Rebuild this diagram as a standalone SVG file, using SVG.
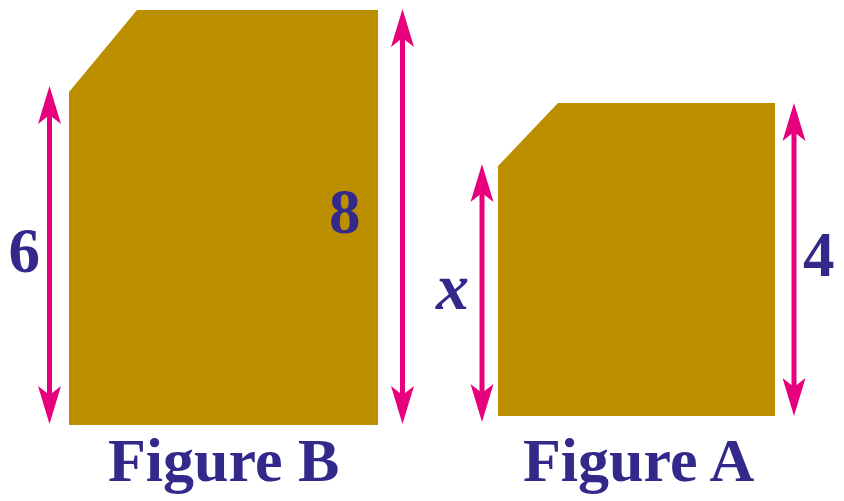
<svg xmlns="http://www.w3.org/2000/svg" width="844" height="501" viewBox="0 0 844 501">
<style>
.s{fill:#bc8f00}
.a{fill:none;stroke:#e6007e;stroke-width:5}
.h{fill:#e6007e}
text{font-family:"Liberation Serif","Times New Roman",serif;font-weight:bold;fill:#33298a}
.n{font-size:63px}
.v{font-size:66px;font-style:italic}
.l{font-size:62px}
</style>
<rect width="844" height="501" fill="#fff"/>
<g id="figure-b"><polygon class="s" points="137,10 378,10 378,425 69,425 69,92"/></g>
<g id="figure-a"><polygon class="s" points="558,103 775,103 775,416 498,416 498,166"/></g>
<g id="connectors">
<path class="a" d="M49.500,105V405"/>
<path class="h" d="M49.500,86L61,124L49.500,115L38,124Z"/>
<path class="h" d="M49.500,424L61,386L49.500,395L38,386Z"/>
<path class="a" d="M402.500,30V405"/>
<path class="h" d="M402.500,9L414,47L402.500,38L391,47Z"/>
<path class="h" d="M402.500,424L414,386L402.500,395L391,386Z"/>
<path class="a" d="M482,183V403"/>
<path class="h" d="M482,164L493.500,202L482,193L470.500,202Z"/>
<path class="h" d="M482,422L493.500,384L482,393L470.500,384Z"/>
<path class="a" d="M794,122V397"/>
<path class="h" d="M794,103L805.500,141L794,132L782.500,141Z"/>
<path class="h" d="M794,416L805.500,378L794,387L782.500,378Z"/>
</g>
<g id="labels">
<text class="n" x="8.500" y="272">6</text>
<text class="n" x="329" y="232.500">8</text>
<text class="v" x="436" y="309">x</text>
<text class="n" x="803" y="275.500">4</text>
<text class="l" x="108" y="480.500">Figure B</text>
<text class="l" x="523" y="480.500">Figure A</text>
</g>
</svg>
